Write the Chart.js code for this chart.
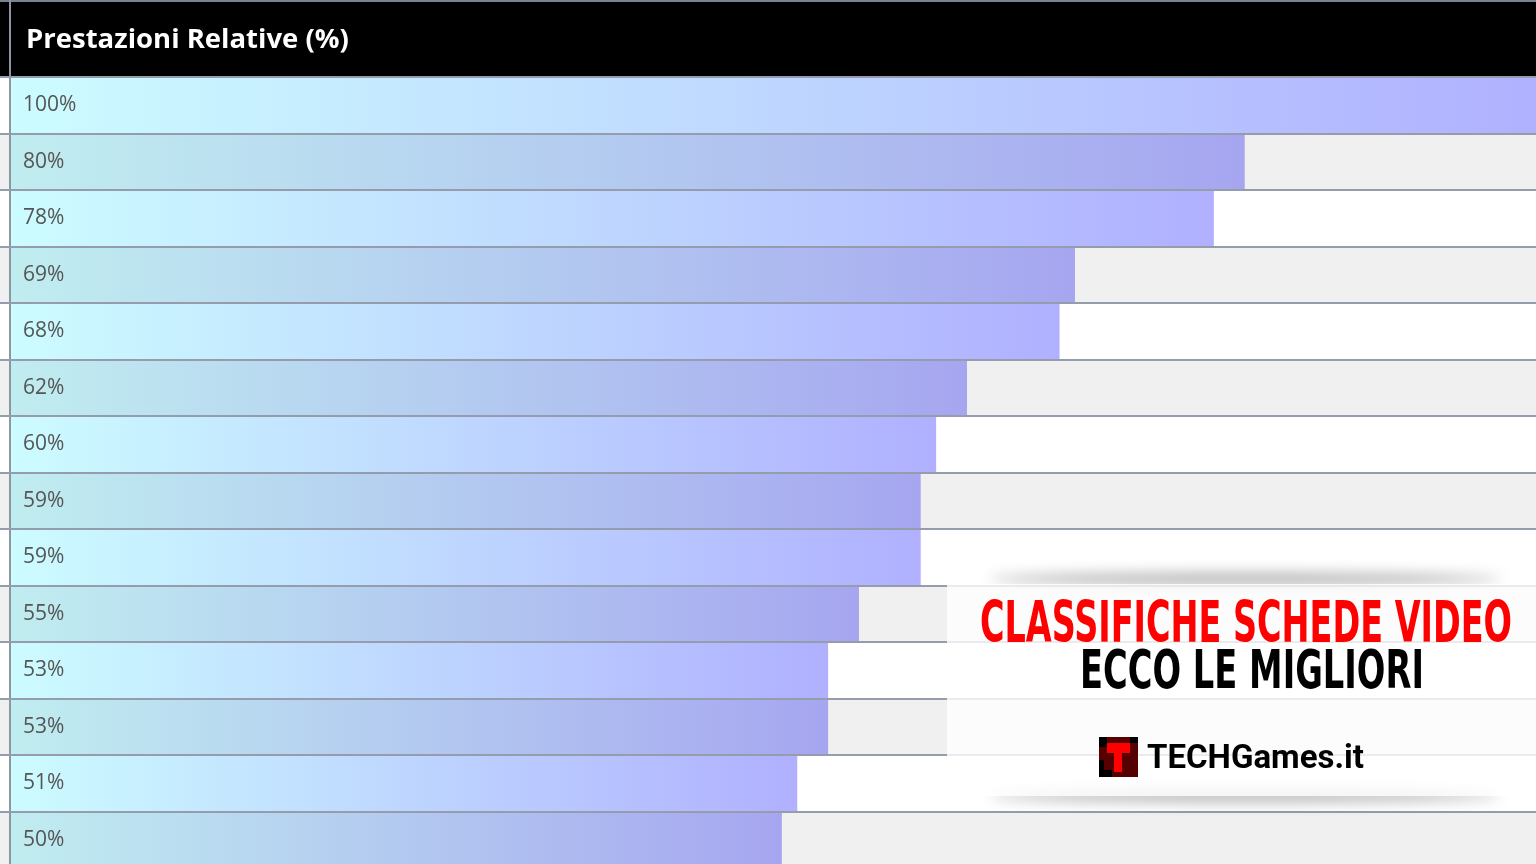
<!DOCTYPE html>
<html>
<head>
<meta charset="utf-8">
<title>Prestazioni Relative</title>
<script src="https://cdn.jsdelivr.net/npm/chart.js@4.4.1/dist/chart.umd.min.js"></script>
<style>
  html, body { margin: 0; padding: 0; background: #fff; overflow: hidden; }
  canvas { display: block; }
</style>
</head>
<body>
<canvas id="perfChart" width="1536" height="868"></canvas>
<script>
// Row labels shown inside each bar and the relative performance values
const rowLabels = ['100%', '80%', '78%', '69%', '68%', '62%', '60%', '59%', '59%', '55%', '53%', '53%', '51%', '50%'];
const perfValues = [100, 80, 78, 69, 68, 62, 60, 59, 59, 55, 53, 53, 51, 50];

const chartTitle = 'Prestazioni Relative (%)';
const bannerLines = ['CLASSIFICHE SCHEDE VIDEO', 'ECCO LE MIGLIORI'];
const brandName = 'TECHGames.it';

// x range: the 100% bar runs past the right edge in the original
const X_MIN = -0.65;
const X_MAX = 98.9;

// Gradient for each bar, running from its start to its end
function barGradient(c) {
    const chart = c.chart;
    const xs = chart.scales.x;
    if (!chart.chartArea || !xs || typeof c.raw !== 'number') return '#c4dcff';
    const x0 = xs.getPixelForValue(0);
    const x1 = xs.getPixelForValue(c.raw);
    if (!isFinite(x0) || !isFinite(x1) || x1 <= x0) return '#c4dcff';
    const g = chart.ctx.createLinearGradient(x0, 0, x1, 0);
    const dark = c.dataIndex % 2 === 1;
    g.addColorStop(0, dark ? '#c0edf0' : '#ccfcff');
    g.addColorStop(1, dark ? '#a6a6f0' : '#b0b0ff');
    return g;
}

// Black header band with the title
const headerPlugin = {
    id: 'header',
    beforeDraw(chart) {
        const ctx = chart.ctx;
        ctx.save();
        ctx.fillStyle = '#000';
        ctx.fillRect(0, 0, chart.width, chart.chartArea.top);
        ctx.fillStyle = '#7a8190';
        ctx.fillRect(0, 0, chart.width, 2);
        ctx.fillStyle = '#fff';
        ctx.font = 'bold 27.5px "Open Sans"';
        ctx.textBaseline = 'alphabetic';
        ctx.fillText(chartTitle, 26, 48);
        ctx.restore();
    },
    afterDraw(chart) {
        // left divider through the header
        const ctx = chart.ctx;
        const x = chart.scales.x.getPixelForValue(0);
        ctx.save();
        ctx.strokeStyle = '#8e96a5';
        ctx.lineWidth = 2;
        ctx.beginPath();
        ctx.moveTo(x, 0);
        ctx.lineTo(x, chart.chartArea.top);
        ctx.stroke();
        ctx.restore();
    }
};

// Promo card in the lower right corner
const bannerPlugin = {
    id: 'banner',
    afterDraw(chart) {
        const ctx = chart.ctx;
        ctx.save();
        ctx.filter = 'blur(7px)';
        ctx.fillStyle = 'rgba(0,0,0,0.3)';
        ctx.beginPath();
        ctx.ellipse(1245, 579, 255, 6, 0, 0, Math.PI * 2);
        ctx.fill();
        ctx.beginPath();
        ctx.ellipse(1245, 796, 255, 6, 0, 0, Math.PI * 2);
        ctx.fill();
        ctx.filter = 'none';
        ctx.fillStyle = 'rgba(255,255,255,0.8)';
        ctx.fillRect(947, 584, 589, 212);

        ctx.textAlign = 'center';
        ctx.textBaseline = 'alphabetic';
        ctx.fillStyle = '#ff0000';
        ctx.font = 'bold 57px "DejaVu Sans Condensed"';
        ctx.fillText(bannerLines[0], 1246, 642, 532);
        ctx.fillStyle = '#000';
        ctx.font = 'bold 54px "DejaVu Sans Condensed"';
        ctx.fillText(bannerLines[1], 1252, 688, 344);

        // logo square
        ctx.fillStyle = '#560000';
        ctx.fillRect(1099, 737, 39, 40);
        ctx.fillStyle = '#000';
        ctx.fillRect(1099, 737, 8, 10);
        ctx.fillRect(1099, 760, 5, 17);
        ctx.fillRect(1104, 770, 8, 7);
        ctx.fillRect(1130, 737, 8, 6);
        ctx.fillStyle = '#ff0000';
        ctx.fillRect(1107, 743, 23, 10);
        ctx.fillRect(1114, 753, 8, 19);

        ctx.textAlign = 'left';
        ctx.fillStyle = '#000';
        ctx.font = 'bold 33px Roboto';
        ctx.fillText(brandName, 1147, 768, 221);
        ctx.restore();
    }
};

const ctx = document.getElementById('perfChart').getContext('2d');

new Chart(ctx, {
    type: 'bar',
    data: {
        labels: rowLabels,
        datasets: [
            {
                label: 'Prestazioni',
                data: perfValues,
                backgroundColor: barGradient,
                borderWidth: 0,
                order: 1
            },
            {
                // alternating row backgrounds
                label: 'rows',
                data: rowLabels.map(() => [X_MIN, X_MAX]),
                backgroundColor: rowLabels.map((l, i) => i % 2 ? '#f0f0f0' : '#ffffff'),
                borderWidth: 0,
                order: 2
            }
        ]
    },
    options: {
        indexAxis: 'y',
        responsive: false,
        animation: false,
        layout: { autoPadding: false, padding: { top: 77, left: 0, right: 0, bottom: 0 } },
        datasets: {
            bar: { grouped: false, barPercentage: 1, categoryPercentage: 1, borderSkipped: false }
        },
        scales: {
            x: {
                type: 'linear',
                min: X_MIN,
                max: X_MAX,
                afterBuildTicks: axis => { axis.ticks = [{ value: 0 }]; },
                afterFit: axis => { axis.height = 0; },
                ticks: { display: false },
                grid: { z: 1, color: '#8e96a5', lineWidth: 2, drawTicks: false },
                border: { display: false }
            },
            y: {
                offset: true,
                afterFit: axis => {
                    axis.width = 0;
                    axis.paddingTop = 0;
                    axis.paddingBottom = 0;
                },
                grid: { z: 1, offset: true, color: '#959cab', lineWidth: 2, drawTicks: false },
                border: { display: false },
                ticks: {
                    z: 2,
                    mirror: true,
                    padding: 23,
                    color: '#555',
                    font: { family: '"Open Sans"', size: 21 }
                }
            }
        },
        plugins: {
            legend: { display: false },
            tooltip: { enabled: false },
            title: { display: false }
        }
    },
    plugins: [headerPlugin, bannerPlugin]
});
</script>
</body>
</html>
